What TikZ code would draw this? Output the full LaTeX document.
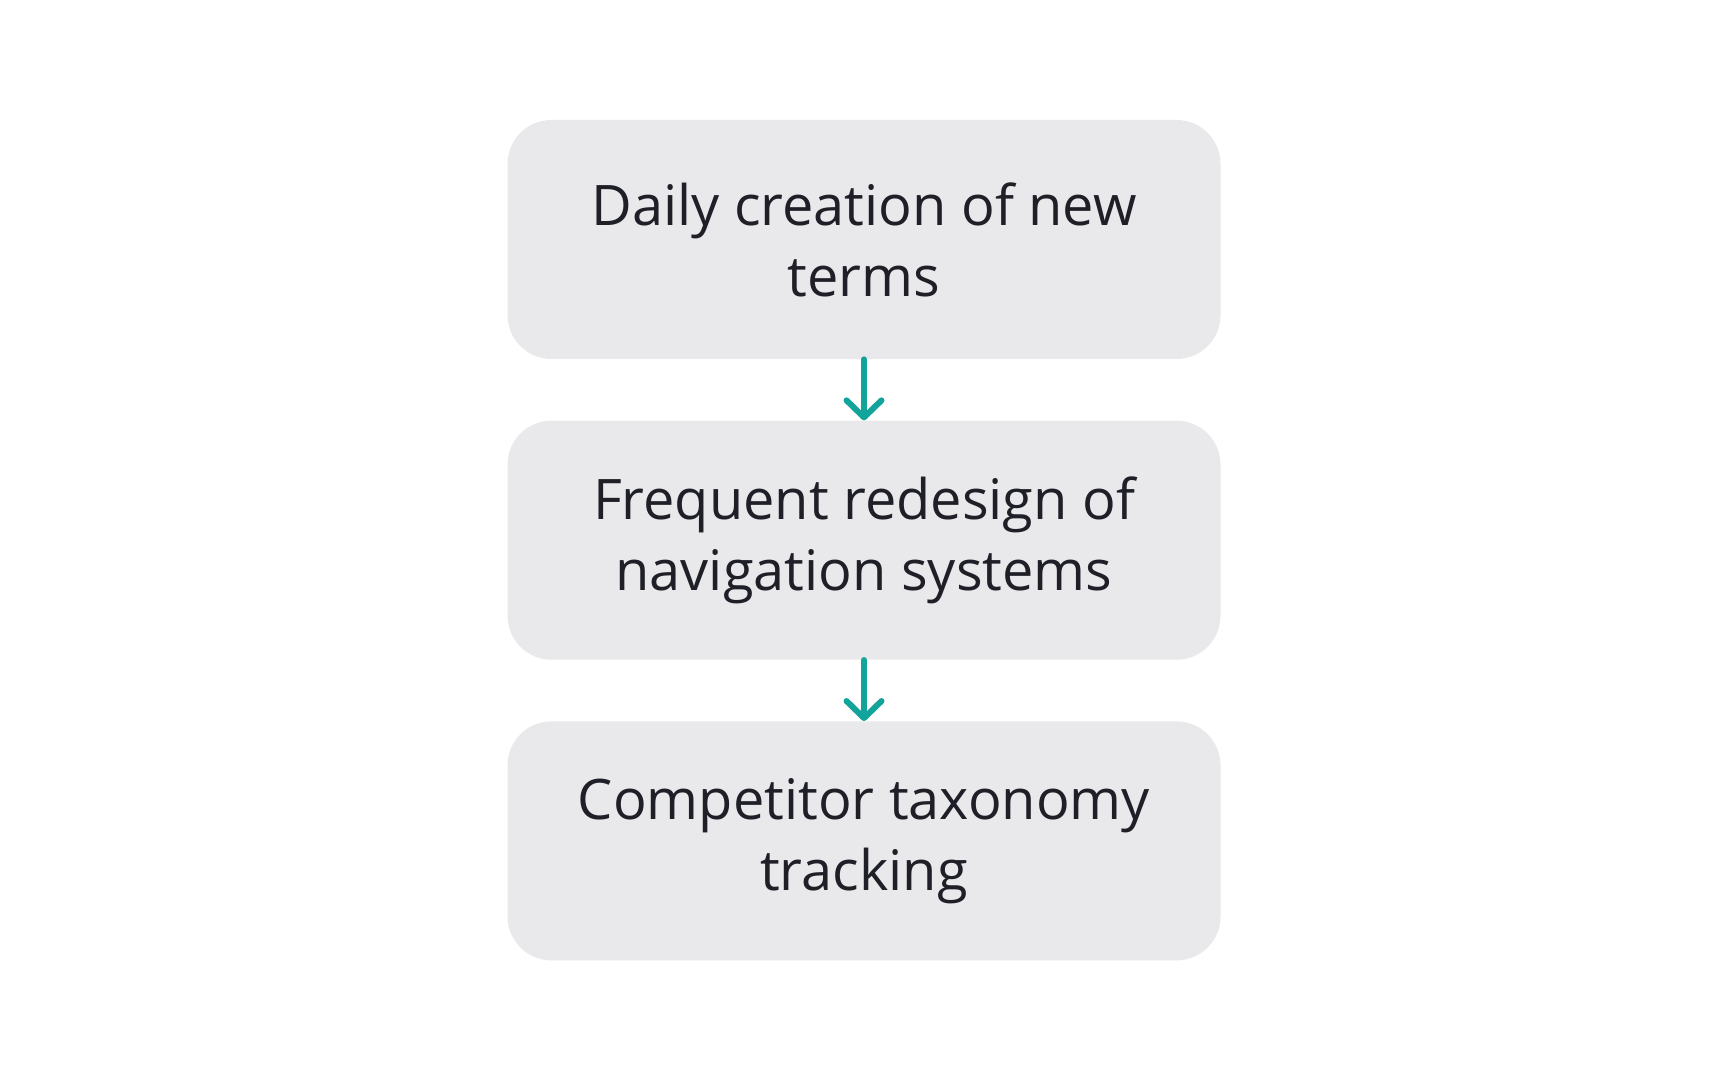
\documentclass[tikz,border=0pt]{standalone}
\usepackage{fontspec}
\setmainfont{Open Sans}
\usetikzlibrary{positioning,arrows.meta}
\definecolor{boxgray}{HTML}{E9E9EB}
\definecolor{inkdark}{HTML}{1F1F28}
\definecolor{teal}{HTML}{12A39A}
\tikzset{
  stage/.style={fill=boxgray, rounded corners=0.88cm, inner sep=0pt,
    minimum width=14.26cm, minimum height=4.78cm, align=center,
    text=inkdark, font=\fontsize{31.8}{40.5}\selectfont},
  flow/.style={teal, line width=3.4pt, line cap=round,
    -{Straight Barb[length=0.34cm, width=0.7cm, line cap=round, line join=round]}}
}
\begin{document}
\begin{tikzpicture}
  \useasboundingbox [fill=white] (0,0) rectangle (34.56,21.6);
  \node [stage] (daily) at (17.28,16.81) {Daily creation of new\\terms};
  \node [stage, below=1.22cm of daily] (redesign) {Frequent redesign of\\navigation systems};
  \node [stage, below=1.22cm of redesign] (tracking) {Competitor taxonomy\\tracking};
  \draw [flow] (daily) -- (redesign);
  \draw [flow] (redesign) -- (tracking);
\end{tikzpicture}
\end{document}
